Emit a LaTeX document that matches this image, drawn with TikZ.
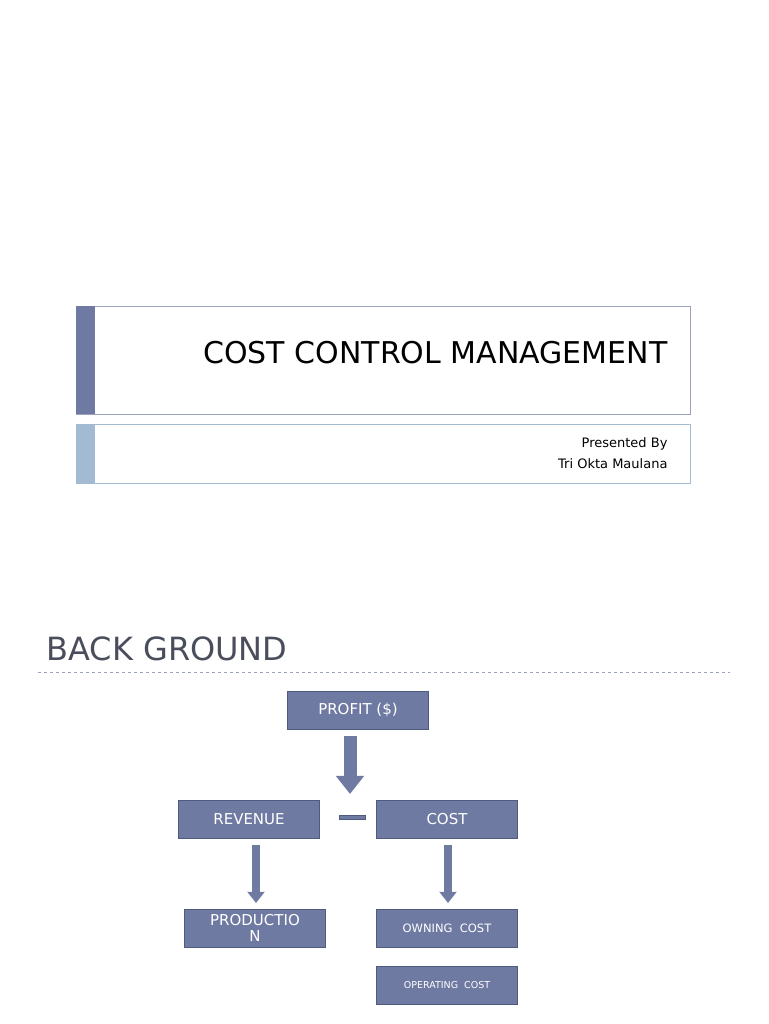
\documentclass[tikz,border=0pt]{standalone}
\usepackage{fontspec}
\setmainfont{DejaVu Sans}
\usetikzlibrary{arrows.meta}
\definecolor{boxblue}{HTML}{6F7AA2}
\definecolor{boxedge}{HTML}{4E5A80}
\definecolor{barlight}{HTML}{A3BBD2}
\definecolor{headgray}{HTML}{4A4E5C}
\tikzset{
  block/.style={draw=boxedge, fill=boxblue, text=white, minimum width=141pt,
    minimum height=38pt, inner sep=0pt, align=center, font=\fontsize{15}{15}\selectfont},
  fatarrow/.style={boxblue, line width=#1, -{Triangle[width=2.1*#1, length=1.4*#1]}},
}
\begin{document}
\begin{tikzpicture}[x=1pt, y=-1pt]
\useasboundingbox (0,0) rectangle (768,1024);
% Title slide
\draw[boxblue!70, fill=white] (76,306) rectangle (690,414);
\fill[boxblue] (76,306) rectangle (95,414);
\draw[barlight, fill=white] (76,424) rectangle (690,483);
\fill[barlight] (76,424) rectangle (95,483);
\node[anchor=east, font=\fontsize{30}{30}\selectfont] (title) at (671,353) {COST CONTROL MANAGEMENT};
\node[anchor=east, align=right, font=\fontsize{13}{21}\selectfont] (author) at (671,453) {Presented By\\Tri Okta Maulana};

% Second slide
\node[anchor=west, text=headgray, font=\fontsize{32}{32}\selectfont] (heading) at (43,649) {BACK GROUND};
\draw[boxblue!70, dashed] (38,672) -- (730,672);

\node[block] (profit) at (358,710) {PROFIT (\$)};
\node[block] (revenue) at (249,819) {REVENUE};
\node[block] (cost) at (447,819) {COST};
\node[block, font=\fontsize{15}{16}\selectfont] (production) at (255,928) {PRODUCTIO\\N};
\node[block, font=\fontsize{11.5}{12}\selectfont] (owning) at (447,928) {OWNING~ COST};
\node[block, font=\fontsize{9.5}{10}\selectfont] (operating) at (447,985) {OPERATING~ COST};

% minus sign
\fill[boxblue, draw=boxedge] (339,815) rectangle (365,819);

% Arrows
\coordinate (pa) at (350,736);
\coordinate (pb) at (350,794);
\draw[fatarrow=13pt] (pa) -- (pb);
\coordinate (ra) at (256,845);
\coordinate (rb) at (256,903);
\draw[fatarrow=8pt] (ra) -- (rb);
\coordinate (ca) at (448,845);
\coordinate (cb) at (448,903);
\draw[fatarrow=8pt] (ca) -- (cb);
\end{tikzpicture}
\end{document}
